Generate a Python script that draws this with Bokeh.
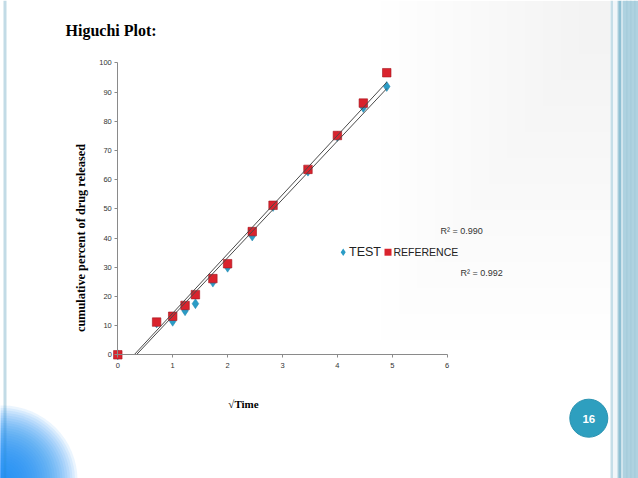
import numpy as np
from bokeh.plotting import figure
from bokeh.models import Range1d, FixedTicker
from bokeh.core.properties import value
from bokeh.embed import file_html
from bokeh.resources import INLINE

# ---------------- data ----------------
sqrt_time = [0, 0.707, 1.0, 1.225, 1.414, 1.732, 2.0, 2.449, 2.828, 3.464, 4.0, 4.472, 4.899]
test_release = [0, 10.9, 11.5, 15.1, 17.5, 24.9, 30.0, 40.7, 50.8, 62.9, 74.8, 84.7, 91.9]
reference_release = [0, 11.2, 13.2, 16.9, 20.6, 26.1, 31.2, 42.2, 51.2, 63.5, 75.1, 86.2, 96.6]
x_ticks = [0, 1, 2, 3, 4, 5, 6]
y_ticks = [0, 10, 20, 30, 40, 50, 60, 70, 80, 90, 100]
series_names = ["TEST", "REFERENCE"]
r2_labels = ["R² = 0.990", "R² = 0.992"]
title_text = "Higuchi Plot:"
x_label = "√Time"
y_label = "cumulative percent of drug released"
page_number = "16"

# ---------------- layout helpers (canvas pixels -> data) ----------------
X0, XS = 117.3, 54.9      # px of x=0, px per unit
Y0, YS = 354.3, 2.92      # px of y=0, px per unit
W, H = 638, 478


def X(px):
    return (px - X0) / XS


def Y(py):
    return (Y0 - py) / YS


p = figure(width=W, height=H, output_backend="svg", toolbar_location=None,
           x_range=Range1d(X(0), X(W)), y_range=Range1d(Y(H), Y(0)),
           min_border=0, min_border_left=0, min_border_right=0,
           min_border_top=0, min_border_bottom=0)
p.outline_line_color = None
p.background_fill_color = "white"
p.border_fill_color = "white"
p.xgrid.visible = False
p.ygrid.visible = False

# ---------------- decorations ----------------
# very faint upper-right wash (soft, layered)
for i in range(12):
    p.quad(left=[X(380 + i * 18)], right=[X(610)], top=[Y(0)], bottom=[Y(340 - i * 26)],
           fill_color="#d8e5ee", fill_alpha=0.035, line_color=None)
# left edge rule
p.quad(left=[X(3)], right=[X(6)], top=[Y(0)], bottom=[Y(478)],
       fill_color="#c2dbe6", line_color=None)
# bottom-left blue glow
for d in range(150, 0, -5):
    p.scatter([X(2)], [Y(480)], size=d, marker="circle", fill_color="#1e8ff8",
              fill_alpha=0.09, line_color=None)
# right-edge stripes
stripes = [(610, 612.5, "#c5dee8"), (612.5, 617, "#f1f6f9"), (617, 618.5, "#a9cddb"),
           (618.5, 621, "#8fc0d3"), (621, 622.5, "#d2e6ee"), (622.5, 638, "#aed2e0")]
for l, r, c in stripes:
    p.quad(left=[X(l)], right=[X(r)], top=[Y(0)], bottom=[Y(480)], fill_color=c,
           line_color=None)
for lx in [626, 630, 634]:
    p.quad(left=[X(lx)], right=[X(lx + 0.8)], top=[Y(0)], bottom=[Y(480)],
           fill_color="#9fc8d8", line_color=None)

# page number badge
p.scatter([X(588.3)], [Y(417.7)], size=38, marker="circle", fill_color="#2e9fbf",
          line_color="#2a93b1", line_width=1)
p.text([X(588.3)], [Y(418.2)], text=[page_number], text_color="white",
       text_font=value("Liberation Sans"), text_font_style="bold",
       text_font_size="11.5px", text_align="center", text_baseline="middle")

# ---------------- axes ----------------
for ax, ticks, bounds in [(p.xaxis, x_ticks, (0, 6)), (p.yaxis, y_ticks, (0, 100))]:
    ax.fixed_location = 0
    ax.bounds = bounds
    ax.ticker = FixedTicker(ticks=ticks)
    ax.minor_tick_line_color = None
    ax.axis_line_color = "#8a8a8a"
    ax.major_tick_line_color = "#8a8a8a"
    ax.major_tick_in = 0
    ax.major_tick_out = 3
    ax.major_label_text_font = "Liberation Sans"
    ax.major_label_text_font_size = "7.5px"
    ax.major_label_text_color = "#333333"
p.xaxis.major_label_standoff = 5
p.yaxis.major_label_standoff = 3

# ---------------- data marks ----------------
p.scatter(sqrt_time, test_release, marker="diamond", size=10, fill_color="#2a9cc6",
          line_color="#2387ad", line_width=0.5)
p.scatter(sqrt_time, reference_release, marker="square", size=8.5, fill_color="#d9232d",
          line_color="#a5161f", line_width=0.6)

# linear trend lines (least squares), drawn from the x-intercept to the last point
for ys in [test_release, reference_release]:
    a, b = np.polyfit(sqrt_time, ys, 1)
    xs0 = max(0.0, -b / a)
    xs1 = max(sqrt_time)
    p.line([xs0, xs1], [a * xs0 + b, a * xs1 + b], line_color="#4a4a4a", line_width=1)

# ---------------- legend ----------------
p.scatter([X(342.7)], [Y(251.7)], marker="diamond", size=7.5, fill_color="#2a9cc6",
          line_color=None)
p.text([X(348.5)], [Y(251.5)], text=[series_names[0]], text_font=value("Liberation Sans"),
       text_font_size="12.5px", text_color="#222222", text_baseline="middle")
p.scatter([X(387.5)], [Y(251.7)], marker="square", size=7, fill_color="#d9232d",
          line_color=None)
p.text([X(393)], [Y(251.2)], text=[series_names[1]], text_font=value("Liberation Sans"),
       text_font_size="10.5px", text_color="#222222", text_baseline="middle")

# R² labels
p.text([X(440), X(460)], [Y(230.7), Y(272.3)], text=r2_labels,
       text_font=value("Liberation Sans"), text_font_size="9px", text_color="#333333",
       text_baseline="middle")

# ---------------- titles ----------------
p.text([X(65)], [Y(29.5)], text=[title_text], text_font=value("Liberation Serif"),
       text_font_style="bold", text_font_size="16px", text_color="black",
       text_baseline="middle")
p.text([X(243)], [Y(403)], text=[x_label], text_font=value("Liberation Serif"),
       text_font_style="bold", text_font_size="11px", text_color="black",
       text_align="center", text_baseline="middle")
p.text([X(80)], [Y(237.5)], text=[y_label], text_font=value("Liberation Serif"),
       text_font_style="bold", text_font_size="12.3px", text_color="black",
       text_align="center", text_baseline="middle", angle=np.pi / 2)

open("out.html", "w").write(file_html(p, INLINE))
